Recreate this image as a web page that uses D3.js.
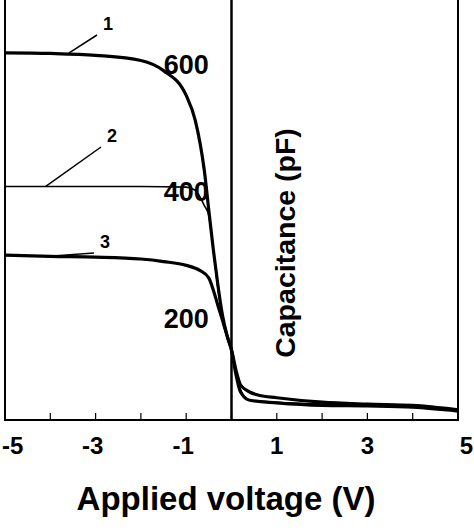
<!DOCTYPE html>
<html><head><meta charset="utf-8">
<script src="https://cdn.jsdelivr.net/npm/d3@7"></script>
<style>body{margin:0;background:#fff}svg{display:block}</style>
</head><body><svg id="c" width="474" height="531"></svg>
<script>
// curve data: applied voltage (V) vs capacitance (pF)
const volts1 = [-5,-4,-3,-2,-1.5,-1,-0.8,-0.6,-0.5,-0.4,-0.3,-0.2,-0.1,0,0.1,0.2,0.4,0.6,1,2,3,4,5];
const cap1   = [617,616,613,605,589,550,511,432,369,307,252,205,173,150,118,95,84,79,75,68,65,63,56];
const volts2 = [-5,-4,-3,-2,-1,-0.8,-0.6,-0.5,-0.4,-0.3,-0.2,-0.1,0,0.1,0.2,0.4,1,2,3,4,5];
const cap2   = [407,407,407,407,406,401,377,361,307,247,203,172,150,115,87,71,68,65,63,62,56];
const volts3 = [-5,-4,-3,-2,-1.5,-1,-0.7,-0.5,-0.4,-0.3,-0.2,-0.1,0,0.1,0.2,0.4,1,2,3,4,5];
const cap3   = [299,297,296,293,289,283,275,263,244,220,197,173,150,111,84,71,67,63,62,60,54];
const xTicks = [-5,-3,-1,1,3,5];
const yTicks = [200,400,600];

const svg = d3.select('#c');
const x = d3.scaleLinear().domain([-5,5]).range([5,458]);
const y = d3.scaleLinear().domain([40,700]).range([420,0]);
const font = 'Liberation Sans, Arial, sans-serif';

// frame
svg.append('path').attr('d',`M${x(-5)},0V${y(40)}H${x(5)}V0`)
  .attr('fill','none').attr('stroke','#000').attr('stroke-width',2);
// zero line
svg.append('line').attr('x1',x(0)).attr('x2',x(0)).attr('y1',0).attr('y2',y(40))
  .attr('stroke','#000').attr('stroke-width',2.5);

// x ticks (inward)
svg.selectAll('.xt').data(d3.range(-5,6,1)).enter().append('line')
  .attr('x1',d=>x(d)).attr('x2',d=>x(d)).attr('y1',y(40)).attr('y2',y(40)-7)
  .attr('stroke','#000').attr('stroke-width',1.2);
svg.selectAll('.xl').data(xTicks).enter().append('text')
  .attr('x',d=>d===-5?2:d===5?473:x(d)+(d<0?-3:0)).attr('y',454)
  .attr('text-anchor',d=>d===-5?'start':d===5?'end':'middle')
  .attr('font-family',font).attr('font-weight','bold').attr('font-size',24)
  .text(d=>d);

svg.selectAll('.yl').data(yTicks).enter().append('text')
  .attr('x',x(-0.5)).attr('y',d=>y(d)+10).attr('text-anchor','end')
  .attr('font-family',font).attr('font-weight','bold').attr('font-size',27)
  .text(d=>d);

const line = d3.line().x(d=>x(d[0])).y(d=>y(d[1])).curve(d3.curveMonotoneX);
[[volts1,cap1,3.2],[volts2,cap2,1.6],[volts3,cap3,3.2]].forEach(([v,c,w])=>{
  svg.append('path').datum(d3.zip(v,c)).attr('d',line)
    .attr('fill','none').attr('stroke','#000').attr('stroke-width',w);
});

// curve labels with leader lines
const labels = [
  {t:'1', v:-3.6, c:cap1[1], lx:103, ly:30},
  {t:'2', v:-4.1, c:cap2[1], lx:107, ly:142},
  {t:'3', v:-4.1, c:cap3[1], lx:100, ly:248}
];
labels.forEach(l=>{
  svg.append('line').attr('x1',x(l.v)).attr('y1',y(l.c)).attr('x2',l.lx-6).attr('y2',l.ly+5)
    .attr('stroke','#000').attr('stroke-width',1.5);
  svg.append('text').attr('x',l.lx).attr('y',l.ly).attr('font-family',font)
    .attr('font-weight','bold').attr('font-size',18).text(l.t);
});

svg.append('text').attr('transform','translate(295,243) rotate(-90)')
  .attr('text-anchor','middle').attr('font-family',font).attr('font-weight','bold')
  .attr('font-size',28.5).text('Capacitance (pF)');
svg.append('text').attr('x',226).attr('y',510).attr('text-anchor','middle')
  .attr('font-family',font).attr('font-weight','bold').attr('font-size',33)
  .text('Applied voltage (V)');
</script></body></html>
